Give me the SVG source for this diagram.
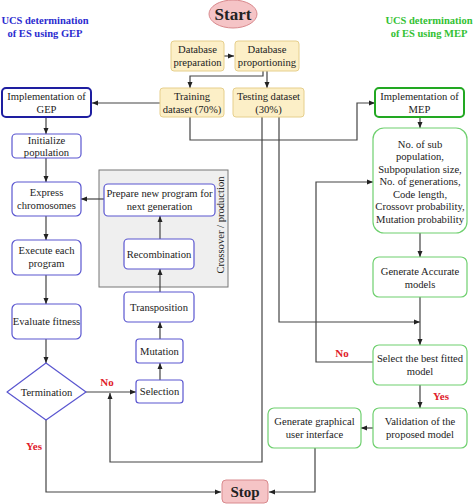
<svg xmlns="http://www.w3.org/2000/svg" width="474" height="504" viewBox="0 0 474 504">
<defs>
<marker id="ah" markerWidth="8" markerHeight="8" refX="7" refY="4" orient="auto" markerUnits="userSpaceOnUse">
<path d="M1,1.5 L7,4 L1,6.5 Z" fill="#222"/>
</marker>
<style>
text{font-family:"Liberation Serif","Times New Roman",serif;font-size:10.6px;fill:#222;text-anchor:middle}
.ca{fill:none;stroke:#444;stroke-width:1.2;marker-end:url(#ah)}
.db{fill:#fcefc7;stroke:#e6cf8c;stroke-width:1}
.gb{fill:#fff;stroke:#5a56d0;stroke-width:1.2}
.mb{fill:#fff;stroke:#6fd06f;stroke-width:1.2}
.t{font-size:10.5px;font-weight:bold}
.red{fill:#e0202a;font-weight:bold;font-size:11px}
.big{font-size:17px;font-weight:bold}
</style>
</defs>
<rect width="474" height="504" fill="#fff"/>
<g id="title-gep"><text class="t" x="45" y="24" style="fill:#2b2bcf">UCS determination</text><text class="t" x="45" y="37" style="fill:#2b2bcf">of ES using GEP</text></g>
<g id="title-mep"><text class="t" x="429" y="24" style="fill:#33c133">UCS determination</text><text class="t" x="429" y="37" style="fill:#33c133">of ES using MEP</text></g>

<g id="crossover-group"><rect x="99" y="170" width="129" height="117" fill="#efefef" stroke="#777" stroke-width="1"/>
<text x="0" y="0" transform="translate(224,225) rotate(-90)">Crossover / production</text></g>

<g id="connectors">
<path class="ca" d="M224,56 L234,56"/>
<path class="ca" d="M263,71 L263,76 L190,76 L190,88"/>
<path class="ca" d="M267,71 L267,88"/>
<path class="ca" d="M160,103 L92,103"/>
<path class="ca" d="M190,117 L190,140 L357,140 L357,103 L375,103"/>
<path class="ca" d="M279,117 L279,322 L420,322"/>
<path class="ca" d="M262,117 L262,462 L110,462 L110,393"/>
<path class="ca" d="M46,117 L46,134"/>
<path class="ca" d="M46,158 L46,182"/>
<path class="ca" d="M46,216 L46,240"/>
<path class="ca" d="M46,275 L46,304"/>
<path class="ca" d="M46,339 L46,363"/>
<path class="ca" d="M86,392 L136,392"/>
<path class="ca" d="M160,380 L160,363"/>
<path class="ca" d="M160,339 L160,322"/>
<path class="ca" d="M160,292 L160,269"/>
<path class="ca" d="M160,239 L160,216"/>
<path class="ca" d="M104,199 L81,199"/>
<path class="ca" d="M46,420 L46,492 L221,492"/>
<path class="ca" d="M420,117 L420,128"/>
<path class="ca" d="M420,233 L420,257"/>
<path class="ca" d="M420,297 L420,345"/>
<path class="ca" d="M373,362 L316,362 L316,182 L373,182"/>
<path class="ca" d="M420,385 L420,408"/>
<path class="ca" d="M373,428 L361,428"/>
<path class="ca" d="M315,448 L315,492 L269,492"/>
<text class="red" x="107" y="386">No</text>
<text class="red" x="34" y="450">Yes</text>
<text class="red" x="342" y="357">No</text>
<text class="red" x="441" y="400">Yes</text>
</g>

<g id="start"><ellipse cx="233" cy="14" rx="24" ry="14" fill="#f5c4c6" stroke="#d98a8e" stroke-width="1"/><text class="big" x="233" y="20">Start</text></g>
<g id="db-prep"><rect class="db" x="171" y="41" width="53" height="30" rx="3"/><text x="197.5" y="53">Database</text><text x="197.5" y="66">preparation</text></g>
<g id="db-prop"><rect class="db" x="235" y="41" width="64" height="30" rx="3"/><text x="267" y="53">Database</text><text x="267" y="66">proportioning</text></g>
<g id="training"><rect class="db" x="160" y="88" width="64" height="29" rx="3"/><text x="192" y="100">Training</text><text x="192" y="113">dataset (70%)</text></g>
<g id="testing"><rect class="db" x="233" y="88" width="71" height="29" rx="3"/><text x="268.5" y="100">Testing dataset</text><text x="268.5" y="113">(30%)</text></g>

<g id="impl-gep"><rect x="2" y="88" width="89" height="29" rx="4" fill="#fff" stroke="#1e1ea0" stroke-width="2"/><text x="46.5" y="100">Implementation of</text><text x="46.5" y="113">GEP</text></g>
<g id="init"><rect class="gb" x="12" y="134" width="69" height="24" rx="4"/><text x="46.5" y="144">Initialize</text><text x="46.5" y="156">population</text></g>
<g id="express"><rect class="gb" x="12" y="182" width="69" height="34" rx="5"/><text x="46.5" y="196">Express</text><text x="46.5" y="209">chromosomes</text></g>
<g id="execute"><rect class="gb" x="12" y="240" width="69" height="35" rx="5"/><text x="46.5" y="254">Execute each</text><text x="46.5" y="267">program</text></g>
<g id="evaluate"><rect class="gb" x="12" y="304" width="69" height="35" rx="5"/><text x="46.5" y="325">Evaluate fitness</text></g>
<g id="termination"><path class="gb" d="M46,363 L86,392 L46,420 L7,392 Z" stroke-linejoin="round"/><text x="46.5" y="395.5">Termination</text></g>
<g id="selection"><rect class="gb" x="136" y="380" width="47" height="23" rx="3"/><text x="159.5" y="395">Selection</text></g>
<g id="mutation"><rect class="gb" x="136" y="339" width="47" height="24" rx="3"/><text x="159.5" y="354.5">Mutation</text></g>
<g id="transposition"><rect class="gb" x="124" y="292" width="70" height="30" rx="4"/><text x="159" y="310.5">Transposition</text></g>
<g id="recombination"><rect class="gb" x="124" y="239" width="70" height="30" rx="4"/><text x="159" y="257.5">Recombination</text></g>
<g id="prepare"><rect class="gb" x="104" y="184" width="111" height="32" rx="4"/><text x="159.5" y="197">Prepare new program for</text><text x="159.5" y="210">next generation</text></g>

<g id="impl-mep"><rect x="375" y="88" width="89" height="29" rx="4" fill="#fff" stroke="#22a822" stroke-width="2"/><text x="419.5" y="100">Implementation of</text><text x="419.5" y="113">MEP</text></g>
<g id="params"><rect class="mb" x="373" y="128" width="94" height="105" rx="11"/>
<text x="420" y="147.5">No. of sub</text><text x="420" y="160">population,</text><text x="420" y="172.5">Subpopulation size,</text><text x="420" y="185">No. of generations,</text><text x="420" y="197.5">Code length,</text><text x="420" y="210">Crossovr probability,</text><text x="420" y="222.5">Mutation probability</text></g>
<g id="generate-models"><rect class="mb" x="373" y="257" width="94" height="40" rx="6"/><text x="420" y="275">Generate Accurate</text><text x="420" y="288">models</text></g>
<g id="select-best"><rect class="mb" x="373" y="345" width="94" height="40" rx="6"/><text x="420" y="362">Select the best fitted</text><text x="420" y="375">model</text></g>
<g id="validation"><rect class="mb" x="373" y="408" width="94" height="40" rx="6"/><text x="420" y="425">Validation of the</text><text x="420" y="438">proposed model</text></g>
<g id="gui"><rect class="mb" x="268" y="408" width="93" height="40" rx="6"/><text x="314.5" y="425">Generate graphical</text><text x="314.5" y="438">user interface</text></g>
<g id="stop"><rect x="222" y="480" width="46" height="23" rx="4" fill="#f5c4c6" stroke="#d98a8e" stroke-width="1"/><text class="big" x="245" y="497" style="font-size:15px">Stop</text></g>
</svg>
